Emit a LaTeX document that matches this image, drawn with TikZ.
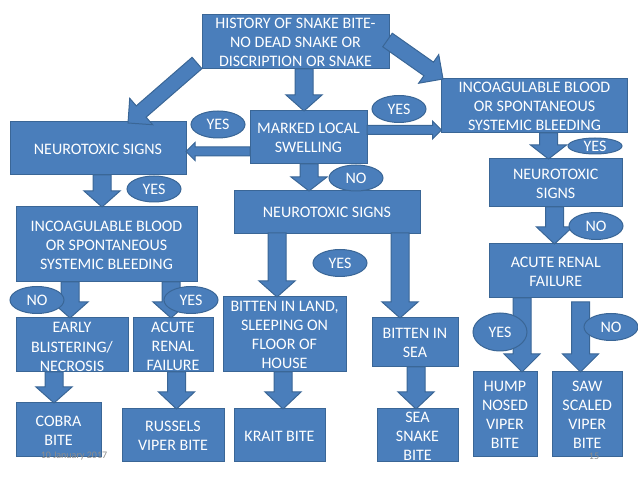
\documentclass[tikz,border=0pt]{standalone}
\usepackage{fontspec}
\setmainfont{Carlito}
\usetikzlibrary{calc,shapes.geometric}
\definecolor{bf}{HTML}{4A7EBB}
\definecolor{be}{HTML}{3A6696}
\tikzset{
 x=1pt,y=-1pt,
 blk/.style={fill=bf,draw=be,line width=1pt,line join=miter},
 txt/.style={text=white,font=\fontsize{16}{19.1}\selectfont,align=center,inner sep=0pt},
 oval/.style={blk},
 foot/.style={text=black!45,font=\fontsize{10}{12}\selectfont,inner sep=0pt},
}
% box: optional text shift, name, x0,y0,x1,y1, text
\newcommand\bbox[7][0]{%
 \path[blk] (#3,#4) rectangle (#5,#6);
 \node[txt] (#2) at ({(#3+#5)/2},{(#4+#6)/2+#1+0.5}) {#7};
}
% arrow: from, to, half shaft, half head, head length
\newcommand\barrow[5]{%
 \coordinate (hb) at ($(#2)!#5pt!(#1)$);
 \draw[blk] ($(#1)!#3pt!90:(#2)$) -- ($(hb)!#3pt!90:(#2)$) -- ($(hb)!#4pt!90:(#2)$) -- (#2)
   -- ($(hb)!#4pt!-90:(#2)$) -- ($(hb)!#3pt!-90:(#2)$) -- ($(#1)!#3pt!-90:(#2)$) -- cycle;
}
\begin{document}
\begin{tikzpicture}
\useasboundingbox (0,0) rectangle (638,478);
% endpoints of the arrows
\coordinate (a1s) at (197,63);    \coordinate (a1e) at (128,123);
\coordinate (a2s) at (387.5,40);  \coordinate (a2e) at (443,79);
\coordinate (a3s) at (304,69);    \coordinate (a3e) at (304,111);
\coordinate (a4s) at (250,151.5); \coordinate (a4e) at (186,151.5);
\coordinate (a5s) at (367,130);   \coordinate (a5e) at (441.5,130);
\coordinate (a6s) at (309,164);   \coordinate (a6e) at (309,191);
\coordinate (a7s) at (102,175);   \coordinate (a7e) at (102,207);
\coordinate (a8s) at (548.5,133); \coordinate (a8e) at (548.5,159);
\coordinate (a9s) at (554.5,207); \coordinate (a9e) at (554.5,244);
\coordinate (b1s) at (277,233);   \coordinate (b1e) at (277,297);
\coordinate (b2s) at (400,233);   \coordinate (b2e) at (400,318);
\coordinate (b3s) at (70,282);    \coordinate (b3e) at (70,318);
\coordinate (b4s) at (171,282);   \coordinate (b4e) at (171,318);
\coordinate (b5s) at (54,372);    \coordinate (b5e) at (54,403);
\coordinate (b6s) at (176.5,372); \coordinate (b6e) at (176.5,409);
\coordinate (b7s) at (283,372);   \coordinate (b7e) at (283,409);
\coordinate (b8s) at (416,367);   \coordinate (b8e) at (416,409);
\coordinate (b9s) at (522,298);   \coordinate (b9e) at (522,372);
\coordinate (c1s) at (580.5,302); \coordinate (c1e) at (580.5,372);
% boxes
\bbox{hist}{202}{15}{389}{69}{HISTORY OF SNAKE BITE-\\NO DEAD SNAKE OR\\DISCRIPTION OR SNAKE}
\bbox{nl}{10}{122}{186}{175}{NEUROTOXIC SIGNS}
\bbox{ms}{250}{111}{367}{164}{MARKED LOCAL\\SWELLING}
\bbox{ir}{441.5}{79}{627.5}{133}{INCOAGULABLE BLOOD\\OR SPONTANEOUS\\SYSTEMIC BLEEDING}
\bbox{nr}{489}{159}{622.5}{207}{NEUROTOXIC\\SIGNS}
\bbox{ar}{489}{244}{622.5}{298}{ACUTE RENAL\\FAILURE}
\bbox{nm}{234}{191}{420}{233.5}{NEUROTOXIC SIGNS}
\bbox{il}{16}{207}{197}{282}{INCOAGULABLE BLOOD\\OR SPONTANEOUS\\SYSTEMIC BLEEDING}
\bbox[1.5]{ea}{16}{318}{128}{372}{EARLY\\BLISTERING/\\NECROSIS}
\bbox[1]{al}{133}{318}{213}{372}{ACUTE\\RENAL\\FAILURE}
\bbox{bl}{223}{297}{346}{372}{BITTEN IN LAND,\\SLEEPING ON\\FLOOR OF\\HOUSE}
\bbox{bs}{372}{318}{458}{367}{BITTEN IN\\SEA}
\bbox{co}{16}{403}{101}{457}{COBRA\\BITE}
\bbox{ru}{122}{409}{224}{462}{RUSSELS\\VIPER BITE}
\bbox{kr}{234}{409}{325}{462}{KRAIT BITE}
\bbox[0.5]{ss}{377}{409}{458}{462}{SEA\\SNAKE\\BITE}
\bbox{hu}{473}{372}{537}{457}{HUMP\\NOSED\\VIPER\\BITE}
\bbox{sa}{552}{372}{622.5}{457}{SAW\\SCALED\\VIPER\\BITE}
% arrows
\barrow{a1s}{a1e}{7.5}{17.5}{17.5}
\barrow{a2s}{a2e}{8.3}{17.5}{17.5}
\barrow{a3s}{a3e}{9}{18}{16}
\barrow{a4s}{a4e}{4.5}{9}{9}
\barrow{a5s}{a5e}{4.5}{9}{9}
\barrow{a6s}{a6e}{9}{18}{14}
\barrow{a7s}{a7e}{9}{18}{16}
\barrow{a8s}{a8e}{9}{18}{14}
\barrow{a9s}{a9e}{9}{18}{17}
\barrow{b1s}{b1e}{9}{18}{16}
\barrow{b2s}{b2e}{9}{18}{16}
\barrow{b3s}{b3e}{9}{18}{16}
\barrow{b4s}{b4e}{9}{18}{16}
\barrow{b5s}{b5e}{9}{18}{16}
\barrow{b6s}{b6e}{9}{18}{17}
\barrow{b7s}{b7e}{9}{18}{17}
\barrow{b8s}{b8e}{9}{18}{17}
\barrow{b9s}{b9e}{9}{18}{18}
\barrow{c1s}{c1e}{9}{18}{18}
% ovals
\path[oval] (218,124.5) ellipse [x radius=27,y radius=13.5] node[txt] (o1) {YES};
\path[oval] (154,189) ellipse [x radius=27,y radius=13] node[txt] (o2) {YES};
\path[oval] (399,109) ellipse [x radius=27,y radius=13.5] node[txt] (o3) {YES};
\path[oval] (595,146) ellipse [x radius=27,y radius=8] node[txt] (o4) {YES};
\path[oval] (356,178) ellipse [x radius=27,y radius=13] node[txt] (o5) {NO};
\path[oval] (596,226) ellipse [x radius=27,y radius=13.5] node[txt] (o6) {NO};
\path[oval] (340,263) ellipse [x radius=27,y radius=13.5] node[txt] (o7) {YES};
\path[oval] (37,300) ellipse [x radius=27,y radius=13.5] node[txt] (o8) {NO};
\path[oval] (191,300) ellipse [x radius=27,y radius=13.5] node[txt] (o9) {YES};
\path[oval] (500,332) ellipse [x radius=27,y radius=19] node[txt] (o10) {YES};
\path[oval] (611,327) ellipse [x radius=27,y radius=13.5] node[txt] (o11) {NO};
% footer
\node[foot] (d) at (74,456) {10 January 2017};
\node[foot] (p) at (594,456) {15};
\end{tikzpicture}
\end{document}
